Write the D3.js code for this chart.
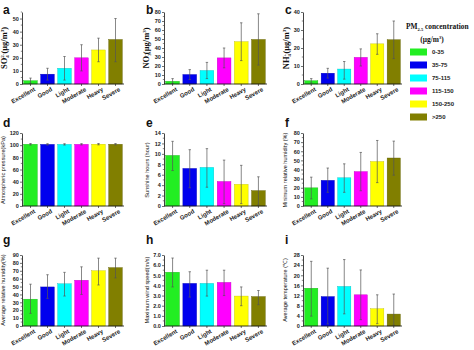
<!DOCTYPE html>
<html>
<head>
<meta charset="utf-8">
<script src="https://cdn.jsdelivr.net/npm/d3@7"></script>
<style>
  body { margin: 0; background: #fff; }
  text { font-family: "Liberation Sans", Arial, sans-serif; }
  .tick-lbl { font-size: 6px; font-weight: bold; fill: #222; }
  .serif { font-family: "Liberation Serif", "Times New Roman", serif; font-weight: bold; }
</style>
</head>
<body>
<div id="chart"></div>
<script>
// categories and legend
const categories = ["Excellent", "Good", "Light", "Moderate", "Heavy", "Severe"];
const colors = ["#22ee22", "#0000ee", "#00ffff", "#ff00ff", "#ffff00", "#817f00"];
const legendLabels = ["0-35", "35-75", "75-115", "115-150", "150-250", ">250"];

// a: SO4
const so4Mean = [2.5, 7.5, 12, 20, 26, 34];
const so4Lo   = [0.5, 3, 3, 10, 17, 17];
const so4Hi   = [4.5, 12, 21, 30, 35, 50];
// b: NO3
const no3Mean = [3, 10.5, 15, 29, 47, 49.5];
const no3Lo   = [0.5, 5, 6, 18, 26, 21];
const no3Hi   = [6, 16, 24, 40, 68, 78];
// c: NH4
const nh4Mean = [1.8, 6, 8.3, 14.8, 22.3, 24.6];
const nh4Lo   = [0.5, 3.3, 2.7, 10, 16.5, 14.1];
const nh4Hi   = [3, 8.7, 12.5, 19.5, 27.9, 35];
// d: atmospheric pressure
const presMean = [101.5, 101.3, 101.3, 101.4, 101.6, 101.5];
const presLo   = [100.3, 100.2, 100.2, 100.3, 100.5, 100.4];
const presHi   = [102.7, 102.4, 102.4, 102.5, 102.7, 102.6];
// e: sunshine hours
const sunMean = [9.7, 7.2, 7.4, 4.7, 4.15, 2.95];
const sunLo   = [6.8, 3.5, 3.6, 0.45, 0.45, 0.2];
const sunHi   = [12.4, 10.8, 11.0, 8.8, 7.8, 5.6];
// f: minimum relative humidity
const minRhMean = [19.9, 28.1, 30.9, 37.7, 48.7, 52.6];
const minRhLo   = [7.8, 15, 15, 16.7, 25.6, 33.8];
const minRhHi   = [31.6, 41.6, 46.2, 58.7, 71.8, 71.1];
// g: average relative humidity
const avgRhMean = [34, 49.5, 53.5, 58, 70, 74];
const avgRhLo   = [16, 35, 38, 40, 52, 61];
const avgRhHi   = [53, 65, 68, 75, 86, 86];
// h: maximum wind speed
const windMean = [5.3, 4.2, 4.2, 4.3, 2.95, 2.9];
const windLo   = [3.85, 2.85, 2.95, 3.0, 2.0, 2.1];
const windHi   = [6.7, 5.35, 5.5, 5.5, 3.85, 3.5];
// i: average temperature
const tempMean = [14.9, 11.6, 15.6, 12.3, 6.8, 4.7];
const tempLo   = [3.9, 0.8, 4.8, 2.5, 0.9, 0.3];
const tempHi   = [25.5, 22.8, 26.2, 22.1, 12.3, 12.6];

const panels = [
  {id: "a", mean: so4Mean, lo: so4Lo, hi: so4Hi, max: 55, step: 10, col: 0, row: 0, label: "so4"},
  {id: "b", mean: no3Mean, lo: no3Lo, hi: no3Hi, max: 80, step: 10, col: 1, row: 0, label: "no3"},
  {id: "c", mean: nh4Mean, lo: nh4Lo, hi: nh4Hi, max: 40, step: 10, col: 2, row: 0, label: "nh4"},
  {id: "d", mean: presMean, lo: presLo, hi: presHi, max: 120, step: 20, col: 0, row: 1, label: "Atmospheric pressure(kPa)"},
  {id: "e", mean: sunMean, lo: sunLo, hi: sunHi, max: 14, step: 2, col: 1, row: 1, label: "Sunshine hours (hour)"},
  {id: "f", mean: minRhMean, lo: minRhLo, hi: minRhHi, max: 80, step: 10, col: 2, row: 1, label: "Minimum relative humidity (%)"},
  {id: "g", mean: avgRhMean, lo: avgRhLo, hi: avgRhHi, max: 90, step: 10, col: 0, row: 2, label: "Average relative humidity(%)"},
  {id: "h", mean: windMean, lo: windLo, hi: windHi, max: 7, step: 1, col: 1, row: 2, label: "Maximum wind speed(m/s)"},
  {id: "i", mean: tempMean, lo: tempLo, hi: tempHi, max: 28, step: 4, col: 2, row: 2, label: "Average temperature (\u2103)"}
];

// layout
const colX = [{x0: 22, x1: 124, lbl: 7, lblS: 5, letter: 3}, {x0: 164, x1: 267, lbl: 149, lblS: 149, letter: 146}, {x0: 303, x1: 402, lbl: 289, lblS: 287, letter: 285}];
const rowY = [{y0: 84, y1: 12, lblY: 48, letter: 14}, {y0: 206, y1: 133, lblY: 170, letter: 127}, {y0: 326, y1: 255, lblY: 290, letter: 244}];

const svg = d3.select("#chart").append("svg")
  .attr("width", 474).attr("height", 350);

panels.forEach(p => {
  const cx = colX[p.col], ry = rowY[p.row];
  const g = svg.append("g");

  const x = d3.scaleBand().domain(categories).range([cx.x0, cx.x1])
    .paddingInner(0.2).paddingOuter(0.1);
  const y = d3.scaleLinear().domain([0, p.max]).range([ry.y0, ry.y1]);

  // bars
  g.selectAll(".bar").data(categories).enter().append("rect")
    .attr("x", d => x(d))
    .attr("y", (d, i) => y(p.mean[i]))
    .attr("width", x.bandwidth())
    .attr("height", (d, i) => y(0) - y(p.mean[i]))
    .attr("fill", (d, i) => colors[i])
    .attr("stroke", (d, i) => d3.color(colors[i]).darker(0.8))
    .attr("stroke-width", 0.4);

  // error bars
  const eb = g.selectAll(".err").data(categories).enter().append("g")
    .attr("stroke", "#555").attr("stroke-width", 0.7);
  eb.append("line")
    .attr("x1", d => x(d) + x.bandwidth() / 2).attr("x2", d => x(d) + x.bandwidth() / 2)
    .attr("y1", (d, i) => y(p.lo[i])).attr("y2", (d, i) => y(p.hi[i]));
  eb.append("line")
    .attr("x1", d => x(d) + x.bandwidth() / 2 - 1.2).attr("x2", d => x(d) + x.bandwidth() / 2 + 1.2)
    .attr("y1", (d, i) => y(p.hi[i])).attr("y2", (d, i) => y(p.hi[i]));
  eb.append("line")
    .attr("x1", d => x(d) + x.bandwidth() / 2 - 1.2).attr("x2", d => x(d) + x.bandwidth() / 2 + 1.2)
    .attr("y1", (d, i) => y(p.lo[i])).attr("y2", (d, i) => y(p.lo[i]));

  // y axis
  const majors = d3.range(0, p.max + 0.001, p.step);
  const minors = d3.range(p.step / 2, p.max + 0.001, p.step);
  const yAxis = d3.axisLeft(y).tickValues(majors).tickSize(2).tickSizeOuter(0).tickPadding(1.2);
  const ya = g.append("g").attr("transform", `translate(${cx.x0},0)`).call(yAxis);
  ya.select(".domain").attr("stroke", "#111").attr("stroke-width", 0.8);
  ya.selectAll(".tick line").attr("stroke", "#111").attr("stroke-width", 0.6);
  ya.selectAll(".tick text").attr("class", "tick-lbl").attr("font-size", null).attr("font-family", null)
    .style("font-size", "5.5px");
  ya.selectAll(".minor").data(minors).enter().append("line")
    .attr("x1", -1.2).attr("x2", 0)
    .attr("y1", d => y(d)).attr("y2", d => y(d))
    .attr("stroke", "#111").attr("stroke-width", 0.5);

  // x axis
  const xAxis = d3.axisBottom(x).tickSize(2).tickSizeOuter(0).tickPadding(2);
  const xa = g.append("g").attr("transform", `translate(0,${ry.y0})`).call(xAxis);
  xa.select(".domain").attr("stroke", "#111").attr("stroke-width", 0.8)
    .attr("d", `M${cx.x0},0H${cx.x1}`);
  xa.selectAll(".tick line").attr("stroke", "#111").attr("stroke-width", 0.6);
  xa.selectAll(".tick text").attr("class", "tick-lbl").attr("font-size", null).attr("font-family", null)
    .attr("text-anchor", "end")
    .attr("dx", "0.2em").attr("dy", "0.7em")
    .attr("transform", "rotate(-30)");

  // panel letter
  svg.append("text").attr("x", cx.letter).attr("y", ry.letter)
    .attr("font-size", 12).attr("font-weight", "bold").attr("fill", "#111").text(p.id);

  // y label
  const lab = svg.append("text")
    .attr("text-anchor", "middle").attr("fill", "#111");
  if (p.label === "so4" || p.label === "no3" || p.label === "nh4") {
    lab.attr("transform", `translate(${cx.lbl},${ry.lblY}) rotate(-90)`);
    lab.attr("class", "serif").attr("font-size", 8.5);
    const parts = {
      so4: ["SO", "4", "2-"],
      no3: ["NO", "3", "-"],
      nh4: ["NH", "4", "+"]
    }[p.label];
    lab.append("tspan").text(parts[0]);
    lab.append("tspan").attr("font-size", 5).attr("dy", 2).text(parts[1]);
    lab.append("tspan").attr("font-size", 5).attr("dy", -5.5).attr("dx", -2.5).text(parts[2]);
    lab.append("tspan").attr("dy", 3.5).text("(\u03bcg/m");
    lab.append("tspan").attr("font-size", 5).attr("dy", -3).text("3");
    lab.append("tspan").attr("dy", 3).text(")");
  } else {
    lab.attr("transform", `translate(${cx.lblS},${ry.lblY}) rotate(-90)`);
    lab.attr("font-size", 5.6).text(p.label);
  }
});

// legend
const lg = svg.append("g");
const t1 = lg.append("text").attr("class", "serif").attr("x", 406).attr("y", 29)
  .attr("font-size", 7.4).attr("fill", "#111");
t1.append("tspan").text("PM");
t1.append("tspan").attr("font-size", 4.5).attr("dy", 2).text("2.5");
t1.append("tspan").attr("dy", -2).text(" concentration");
const t2 = lg.append("text").attr("class", "serif").attr("x", 432).attr("y", 42)
  .attr("font-size", 7.4).attr("fill", "#111").attr("text-anchor", "middle");
t2.append("tspan").text("(\u03bcg/m");
t2.append("tspan").attr("font-size", 4.5).attr("dy", -3).text("3");
t2.append("tspan").attr("dy", 3).text(")");

const ly = d3.scalePoint().domain(legendLabels).range([52, 117]);
legendLabels.forEach((l, i) => {
  lg.append("rect").attr("x", 410).attr("y", ly(l) - 3.5).attr("width", 17).attr("height", 7)
    .attr("fill", colors[i]);
  lg.append("text").attr("class", "tick-lbl").attr("x", 432).attr("y", ly(l) + 2).text(l);
});
</script>
</body>
</html>
